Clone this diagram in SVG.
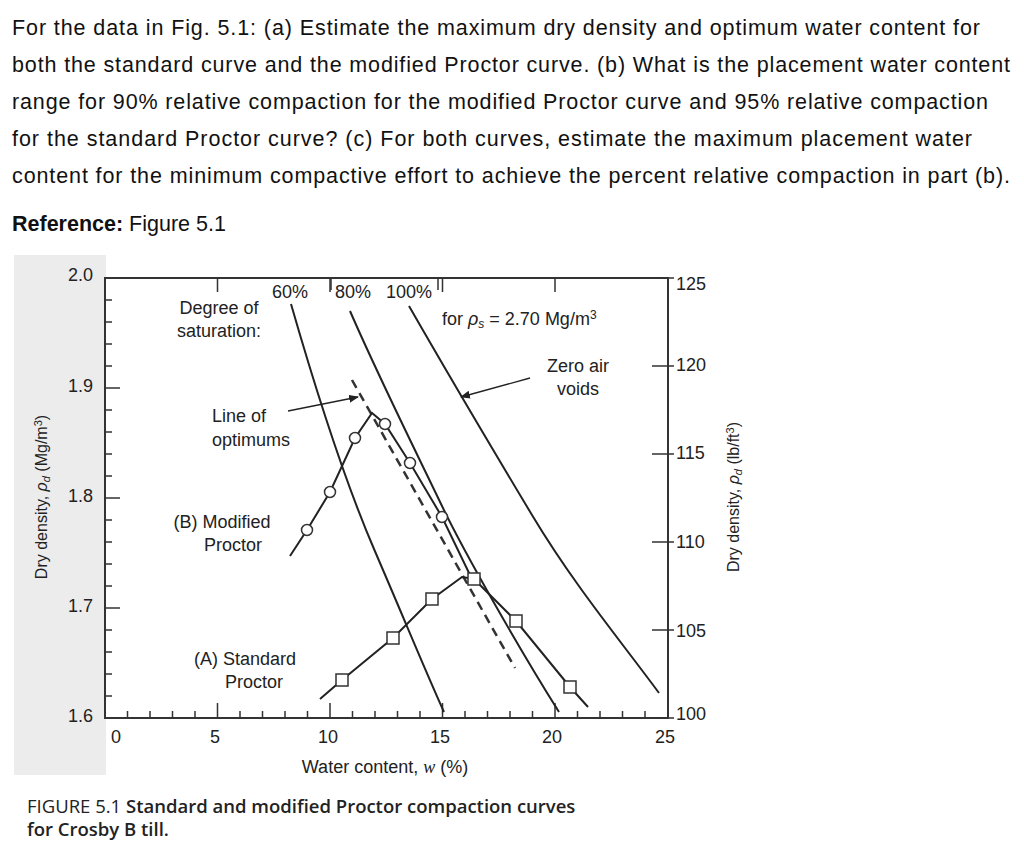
<svg xmlns="http://www.w3.org/2000/svg" width="1024" height="847" viewBox="0 0 1024 847">
<style>
.h{font-family:"Liberation Sans",Arial,sans-serif;font-size:21.5px;fill:#111}
.t{font-family:"Liberation Sans",Arial,sans-serif;font-size:18px;fill:#222}
.c{font-family:"Open Sans","Liberation Sans",sans-serif;font-size:18.5px;fill:#222}
.ln{fill:none;stroke:#222;stroke-width:2}
.tk{stroke:#333;stroke-width:1.5}
.mk{fill:#fff;stroke:#333;stroke-width:1.5}
</style>
<defs><marker id="ar" markerWidth="10" markerHeight="8" refX="9" refY="4" orient="auto" markerUnits="userSpaceOnUse"><path d="M0,0 L10,4 L0,8 z" fill="#222"/></marker></defs>
<rect width="1024" height="847" fill="#fff"/>
<g id="question">
<text class="h" x="12" y="35" textLength="968" lengthAdjust="spacing">For the data in Fig. 5.1: (a) Estimate the maximum dry density and optimum water content for</text>
<text class="h" x="12" y="72" textLength="998" lengthAdjust="spacing">both the standard curve and the modified Proctor curve. (b) What is the placement water content</text>
<text class="h" x="12" y="109" textLength="976" lengthAdjust="spacing">range for 90% relative compaction for the modified Proctor curve and 95% relative compaction</text>
<text class="h" x="12" y="146" textLength="960" lengthAdjust="spacing">for the standard Proctor curve? (c) For both curves, estimate the maximum placement water</text>
<text class="h" x="12" y="183" textLength="998" lengthAdjust="spacing">content for the minimum compactive effort to achieve the percent relative compaction in part (b).</text>
<text class="h" x="12" y="231"><tspan font-weight="bold">Reference:</tspan> Figure 5.1</text>
</g>
<rect x="14" y="255" width="92" height="520" fill="#ececec"/>
<g id="frame">
<rect x="105" y="278" width="563" height="440" fill="#fff" stroke="#333" stroke-width="2"/>
<path class="tk" d="M105,300h7M105,322h7M105,344h7M105,366h7M105,388h15M105,410h7M105,432h7M105,454h7M105,476h7M105,498h15M105,520h7M105,542h7M105,564h7M105,586h7M105,608h15M105,630h7M105,652h7M105,674h7M105,696h7"/>
<path class="tk" d="M127.5,718v-7M150,718v-7M172.5,718v-7M195,718v-7M217.5,718v-15M240,718v-7M262.5,718v-7M285,718v-7M307.5,718v-7M330,718v-15M352.5,718v-7M375,718v-7M397.5,718v-7M420,718v-7M442.5,718v-15M465,718v-7M487.5,718v-7M510,718v-7M532.5,718v-7M555,718v-15M577.5,718v-7M600,718v-7M622.5,718v-7M645,718v-7"/>
<path class="tk" d="M217.5,278v14M330,278v14M442.5,278v14M555,278v14"/>
<path class="tk" d="M652,366h22M652,454h22M652,542h22M652,630h22M660,718h14M660,278h14"/>
</g>
<g id="axis-labels" class="t">
<text x="68" y="281">2.0</text><text x="68" y="392">1.9</text><text x="68" y="502">1.8</text><text x="68" y="612">1.7</text><text x="68" y="722">1.6</text>
<text x="116" y="743" text-anchor="middle">0</text><text x="215" y="743" text-anchor="middle">5</text><text x="328" y="743" text-anchor="middle">10</text><text x="440" y="743" text-anchor="middle">15</text><text x="552" y="743" text-anchor="middle">20</text><text x="665" y="743" text-anchor="middle">25</text>
<text x="676" y="290">125</text><text x="676" y="371">120</text><text x="676" y="459">115</text><text x="676" y="548">110</text><text x="676" y="637">105</text><text x="676" y="720">100</text>
<text x="385" y="773" text-anchor="middle">Water content, <tspan font-style="italic" font-family="Liberation Serif,serif">w</tspan> (%)</text>
<text transform="translate(47,497) rotate(-90)" text-anchor="middle" font-size="16">Dry density, <tspan font-style="italic">ρ<tspan font-size="11" dy="3">d</tspan></tspan><tspan dy="-3"> (Mg/m</tspan><tspan font-size="11" dy="-5">3</tspan><tspan dy="5">)</tspan></text>
<text transform="translate(739,497) rotate(-90)" text-anchor="middle" font-size="16">Dry density, <tspan font-style="italic">ρ<tspan font-size="11" dy="3">d</tspan></tspan><tspan dy="-3"> (lb/ft</tspan><tspan font-size="11" dy="-5">3</tspan><tspan dy="5">)</tspan></text>
</g>
<g id="saturation-lines">
<path class="ln" d="M291,304 C310,370 340,470 374,549 S425,670 444,712"/>
<path class="ln" d="M350,311 C380,380 420,460 442,506 S520,650 559,712"/>
<path class="ln" d="M409,306 C440,360 490,445 532,515 S620,640 659,693"/>
<line x1="352" y1="380" x2="515" y2="668" stroke="#333" stroke-width="2.5" stroke-dasharray="9,6"/>
</g>
<g id="modified-proctor">
<polyline class="ln" points="290,556 307,530 330,492 355,438 372,413 385,424 410,463 442,517 470,575"/>
<circle class="mk" cx="307" cy="530" r="5.5"/><circle class="mk" cx="330" cy="492" r="5.5"/><circle class="mk" cx="355" cy="438" r="5.5"/><circle class="mk" cx="385" cy="424" r="5.5"/><circle class="mk" cx="410" cy="463" r="5.5"/><circle class="mk" cx="442" cy="517" r="5.5"/>
</g>
<g id="standard-proctor">
<polyline class="ln" points="320,699 342,680 393,638 432,599 462,577 474,579 516,621 570,687 588,707"/>
<rect class="mk" x="336" y="674" width="12" height="12"/><rect class="mk" x="387" y="632" width="12" height="12"/><rect class="mk" x="426" y="593" width="12" height="12"/><rect class="mk" x="468" y="573" width="12" height="12"/><rect class="mk" x="510" y="615" width="12" height="12"/><rect class="mk" x="564" y="681" width="12" height="12"/>
</g>
<g id="annotations" class="t">
<text x="219" y="314" text-anchor="middle">Degree of</text><text x="219" y="337" text-anchor="middle">saturation:</text>
<text x="272" y="298">60%</text><text x="335" y="298">80%</text><text x="386" y="298">100%</text>
<path class="tk" d="M331,290v-12M438,290v-12"/>
<text x="442" y="325">for <tspan font-style="italic">ρ<tspan font-size="12" dy="3">s</tspan></tspan><tspan dy="-3"> = 2.70 Mg/m</tspan><tspan font-size="12" dy="-6">3</tspan></text>
<text x="578" y="372" text-anchor="middle">Zero air</text><text x="578" y="395" text-anchor="middle">voids</text>
<line x1="530" y1="378" x2="461" y2="397" stroke="#222" stroke-width="1.3" marker-end="url(#ar)"/>
<text x="212" y="422">Line of</text><text x="212" y="446">optimums</text>
<line x1="288" y1="411" x2="358" y2="397" stroke="#222" stroke-width="1.3" marker-end="url(#ar)"/>
<text x="222" y="528" text-anchor="middle">(B) Modified</text><text x="233" y="551" text-anchor="middle">Proctor</text>
<text x="245" y="665" text-anchor="middle">(A) Standard</text><text x="254" y="688" text-anchor="middle">Proctor</text>
</g>
<g id="caption" class="c">
<text x="27" y="813">FIGURE 5.1 <tspan font-weight="600">Standard and modified Proctor compaction curves</tspan></text>
<text x="27" y="836" font-weight="600">for Crosby B till.</text>
</g>
</svg>
